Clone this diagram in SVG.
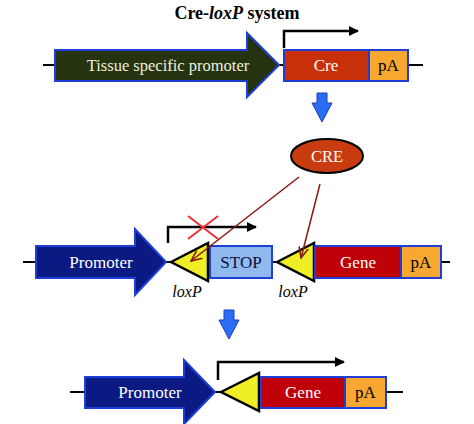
<svg xmlns="http://www.w3.org/2000/svg" width="474" height="424" viewBox="0 0 474 424">
<defs>
<marker id="blk" viewBox="0 0 10 10" refX="9" refY="5" markerWidth="4" markerHeight="4" orient="auto" markerUnits="strokeWidth">
<path d="M0,0 L10,5 L0,10 z" fill="#000"/>
</marker>
<marker id="brn" viewBox="0 0 10 10" refX="9" refY="5" markerWidth="8" markerHeight="8" orient="auto" markerUnits="strokeWidth">
<path d="M0,1 L9,5 L0,9" fill="none" stroke="#8b1410" stroke-width="1.3"/>
</marker>
<path id="down" d="M-5,0 h10 v10 h5 l-10,19 l-10,-19 h5 z"/>
</defs>
<style>
text{font-family:"Liberation Serif","Times New Roman",serif;text-anchor:middle}
.bx{stroke:#1d3fd8;stroke-width:2}
.dna{stroke:#000;stroke-width:2}
.lox{fill:#eef025;stroke:#000;stroke-width:2.5;stroke-linejoin:miter}
.lbl{font-size:17px}
.w{fill:#fff}
.it{font-style:italic;font-size:16px}
.bent{fill:none;stroke:#000;stroke-width:2.5;marker-end:url(#blk)}
.cut{stroke:#8b1410;stroke-width:1.5;marker-end:url(#brn)}
.bd{fill:#2a6cf2;stroke:#1840c0;stroke-width:1}
</style>
<rect width="474" height="424" fill="#fff"/>
<text x="237" y="19" style="font-size:18px;font-weight:bold">Cre-<tspan font-style="italic">loxP</tspan> system</text>

<g id="construct1">
<line class="dna" x1="43" y1="65" x2="423" y2="65"/>
<path id="tissue-promoter" class="bx" fill="#253311" d="M55,50 H247 V33 L279,65 L247,97 V81 H55 Z"/>
<text x="168" y="71" class="lbl" style="font-size:16.5px" fill="#eaf0dc">Tissue specific promoter</text>
<rect class="bx" x="284" y="50" width="85" height="31" fill="#c8300a"/>
<text x="326" y="71" class="lbl w">Cre</text>
<rect class="bx" x="369" y="50" width="39" height="31" fill="#f8a830"/>
<text x="388.5" y="71" class="lbl">pA</text>
<path class="bent" d="M284,48 V31 H358"/>
</g>

<g id="arrow-down-1"><use href="#down" class="bd" x="322" y="93"/></g>

<g id="cre-protein">
<ellipse cx="327" cy="156" rx="36" ry="17" fill="#c83c10" stroke="#000" stroke-width="2"/>
<text x="327" y="162" class="lbl w" style="font-size:16.5px">CRE</text>
</g>

<g id="construct2">
<line class="dna" x1="23" y1="262" x2="450" y2="262"/>
<path class="bx" fill="#0a1a82" d="M36,246 H135 V229 L166,262 L135,295 V278 H36 Z"/>
<text x="101" y="268" class="lbl w">Promoter</text>
<path class="lox" d="M171,262 L208,243 V281 Z"/>
<rect class="bx" x="210" y="246" width="62" height="32" fill="#92b9ee"/>
<text x="241" y="268" class="lbl" fill="#0a1040">STOP</text>
<path class="lox" d="M277,262 L314,243 V281 Z"/>
<rect class="bx" x="315" y="246" width="86" height="32" fill="#c00008"/>
<text x="358" y="268" class="lbl w">Gene</text>
<rect class="bx" x="401" y="246" width="40" height="32" fill="#f8a830"/>
<text x="421" y="268" class="lbl">pA</text>
<text x="187" y="297" class="it">loxP</text>
<text x="293" y="297" class="it">loxP</text>
<path class="bent" d="M168,243 V227 H256"/>
<g stroke="#f03030" stroke-width="2">
<line x1="188" y1="216" x2="218" y2="239"/>
<line x1="218" y1="216" x2="188" y2="239"/>
</g>
</g>

<g id="connectors">
<line class="cut" x1="299" y1="177" x2="191" y2="261"/>
<line class="cut" x1="320" y1="184" x2="301" y2="258"/>
</g>

<g id="arrow-down-2"><use href="#down" class="bd" x="229" y="310"/></g>

<g id="construct3">
<line class="dna" x1="70" y1="392" x2="403" y2="392"/>
<path class="bx" fill="#0a1a82" d="M85,377 H184 V360 L215,392 L184,424 V408 H85 Z"/>
<text x="150" y="398" class="lbl w">Promoter</text>
<path class="lox" d="M221,392 L259,373 V411 Z"/>
<rect class="bx" x="261" y="377" width="84" height="31" fill="#c00008"/>
<text x="303" y="398" class="lbl w">Gene</text>
<rect class="bx" x="345" y="377" width="41" height="31" fill="#f8a830"/>
<text x="365.5" y="398" class="lbl">pA</text>
<path class="bent" d="M218,380 V362 H344"/>
</g>
</svg>
